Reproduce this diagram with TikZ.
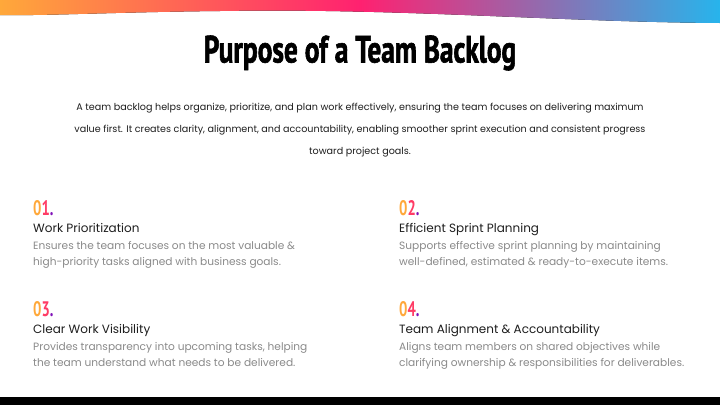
\documentclass[tikz,border=0pt]{standalone}
\usepackage{fontspec}
\setmainfont{Poppins}
\newfontfamily\titlefont[FakeStretch=0.72,FakeBold=1.5]{PT Sans Bold}
\newfontfamily\numfont[FakeStretch=0.7]{PT Sans Bold}
\definecolor{barorange}{HTML}{FFA83A}
\definecolor{barpink}{HTML}{FF2170}
\definecolor{barblue}{HTML}{27B4EC}
\definecolor{desctext}{HTML}{8A8A8A}
\definecolor{headtext}{HTML}{1E1E1E}
\begin{document}
\begin{tikzpicture}[x=1pt,y=-1pt,
    % Styles
    title/.style={font=\titlefont\fontsize{38}{40}\selectfont, text=black},
    intro/.style={font=\fontsize{9.6}{22}\selectfont, text=headtext, align=center},
    num/.style={font=\numfont\fontsize{21}{22}\selectfont, anchor=base west, inner sep=0pt},
    head/.style={font=\fontsize{12}{14}\selectfont, text=headtext, anchor=base west, inner sep=0pt},
    desc/.style={font=\fontsize{10.6}{16}\selectfont, text=desctext, anchor=base west, inner sep=0pt, align=left},
    ]
    \useasboundingbox (0,0) rectangle (720,405);
    \fill[white] (0,0) rectangle (720,405);

    % Top gradient wave
    \fill[left color=barorange, right color=barblue, middle color=barpink]
      (0,0) -- (720,0) -- (720,23) .. controls (560,22) and (400,8) .. (220,11)
      .. controls (120,12) and (40,16) .. (0,15) -- cycle;

    % Bottom bar
    \fill[black] (0,397) rectangle (720,405);

    % Title and intro
    \node[title] (ttl) at (360,53) {Purpose of a Team Backlog};
    \node[intro, anchor=base] (txt) at (360,154)
      {A team backlog helps organize, prioritize, and plan work effectively, ensuring the team focuses on delivering maximum\\
       value first. It creates clarity, alignment, and accountability, enabling smoother sprint execution and consistent progress\\
       toward project goals.};

    % Items
    \foreach \nx/\ny/\k/\hd/\ds in {
      33/215/1/Work Prioritization/{Ensures the team focuses on the most valuable \&\\high-priority tasks aligned with business goals.},
      399/215/2/Efficient Sprint Planning/{Supports effective sprint planning by maintaining\\well-defined, estimated \& ready-to-execute items.},
      33/316/3/Clear Work Visibility/{Provides transparency into upcoming tasks, helping\\the team understand what needs to be delivered.},
      399/316/4/Team Alignment \& Accountability/{Aligns team members on shared objectives while\\clarifying ownership \& responsibilities for deliverables.}}{
      \node[num] (num\k) at (\nx,\ny) {\textcolor{barorange}{0}\textcolor{barpink!80!barorange}{\k}\textcolor{barpink!50!blue}{.}};
      \node[head] (head\k) at (\nx,\ny+17.5) {\hd};
      \node[desc] (desc\k) at (\nx,\ny+50.5) {\ds};
    }
\end{tikzpicture}
\end{document}
